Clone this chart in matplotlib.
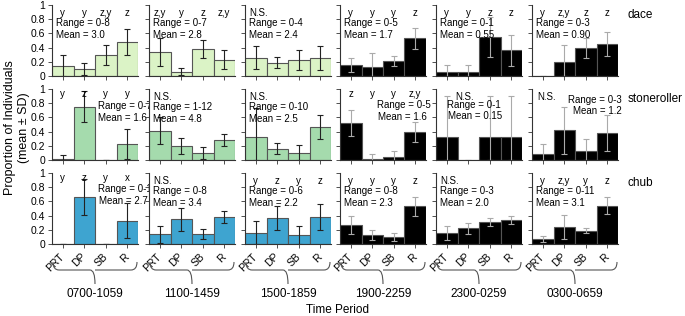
import matplotlib
matplotlib.use('Agg')
import matplotlib.pyplot as plt
from matplotlib.path import Path
from matplotlib.patches import PathPatch

plt.rcParams['font.family'] = ['Liberation Sans', 'DejaVu Sans']

# data
periods = ['0700-1059', '1100-1459', '1500-1859', '1900-2259', '2300-0259', '0300-0659']
habitats = ['PRT', 'DP', 'SB', 'R']
species = ['dace', 'stoneroller', 'chub']

dace_mean = [[0.14, 0.10, 0.29, 0.48], [0.34, 0.06, 0.38, 0.23], [0.26, 0.19, 0.23, 0.25],
             [0.15, 0.13, 0.21, 0.53], [0.06, 0.06, 0.55, 0.36], [0.00, 0.20, 0.39, 0.45]]
dace_sd = [[0.15, 0.08, 0.14, 0.18], [0.20, 0.05, 0.12, 0.13], [0.16, 0.08, 0.14, 0.17],
           [0.10, 0.19, 0.07, 0.15], [0.10, 0.10, 0.28, 0.22], [0.00, 0.24, 0.14, 0.17]]

stone_mean = [[0.02, 0.75, 0.00, 0.22], [0.41, 0.20, 0.10, 0.28], [0.32, 0.16, 0.10, 0.46],
              [0.52, 0.02, 0.04, 0.40], [0.33, 0.00, 0.33, 0.33], [0.09, 0.42, 0.13, 0.38]]
stone_sd = [[0.05, 0.22, 0.00, 0.21], [0.19, 0.11, 0.08, 0.08], [0.41, 0.08, 0.11, 0.17],
            [0.18, 0.07, 0.08, 0.14], [0.57, 0.00, 0.57, 0.57], [0.13, 0.33, 0.17, 0.25]]

chub_mean = [[0.00, 0.66, 0.00, 0.33], [0.14, 0.35, 0.14, 0.38], [0.15, 0.37, 0.12, 0.38],
             [0.27, 0.13, 0.10, 0.53], [0.16, 0.22, 0.31, 0.34], [0.07, 0.24, 0.19, 0.54]]
chub_sd = [[0.00, 0.25, 0.00, 0.25], [0.12, 0.16, 0.07, 0.09], [0.17, 0.17, 0.13, 0.18],
           [0.13, 0.07, 0.06, 0.13], [0.10, 0.08, 0.05, 0.06], [0.04, 0.17, 0.04, 0.12]]

dace_letters = [['y', 'y', 'z,y', 'z'], ['z,y', 'y', 'z', 'z,y'], 'N.S.',
                ['y', 'y', 'y', 'z'], ['y', 'y', 'z', 'z'], ['y', 'z,y', 'z', 'z']]
stone_letters = [['y', 'z', 'y', 'y'], 'N.S.', 'N.S.',
                 ['z', 'y', 'y', 'z,y'], 'N.S.', 'N.S.']
chub_letters = [['y', 'z', 'y', 'x'], 'N.S.', ['y', 'z', 'y', 'z'],
                ['y', 'y', 'y', 'z'], 'N.S.', ['y', 'z,y', 'y', 'z']]

dace_range = ['0-8', '0-7', '0-4', '0-5', '0-1', '0-3']
dace_avg = ['3.0', '2.8', '2.4', '1.7', '0.55', '0.90']
stone_range = ['0-7', '1-12', '0-10', '0-5', '0-1', '0-3']
stone_avg = ['1.6', '4.8', '2.5', '1.6', '0.15', '1.2']
chub_range = ['0-13', '0-8', '0-6', '0-8', '0-3', '0-11']
chub_avg = ['2.7', '3.4', '2.2', '2.3', '2.0', '3.1']

means = [dace_mean, stone_mean, chub_mean]
sds = [dace_sd, stone_sd, chub_sd]
letters = [dace_letters, stone_letters, chub_letters]
ranges = [dace_range, stone_range, chub_range]
avgs = [dace_avg, stone_avg, chub_avg]

colors = ['#dbf3c6', '#a5dbad', '#3ea4d0']

# text placement (axes fraction): (letters_y, ns_x, range_x, range_y, mean_x, mean_y)
text_pos = {(1, 0): (0.93, 0.05, 0.53, 0.76, 0.53, 0.59),
            (1, 3): (0.93, 0.05, 0.43, 0.77, 0.44, 0.61),
            (1, 4): (0.89, 0.22, 0.13, 0.77, 0.14, 0.62),
            (1, 5): (0.89, 0.06, 0.42, 0.84, 0.48, 0.69),
            (2, 0): (0.93, 0.05, 0.53, 0.77, 0.55, 0.61)}

W, H = 685, 316
fig = plt.figure(figsize=(W / 100, H / 100), dpi=100)

col_left = [52, 149, 245, 340, 436, 532]
row_top = [5, 89, 173]
pw, ph = 86, 71


def brace(ax):
    bb = ax.get_position()
    x0, x1 = bb.x0 * W + 1, bb.x1 * W - 1
    xm = (x0 + x1) / 2
    yt, yh, ytip = 262, 270, 284
    pts = [(x0, yt), (x0, yh), (x0 + 6, yh), (xm - 5, yh), (xm, yh), (xm, ytip),
           (xm, yh), (xm + 5, yh), (x1 - 6, yh), (x1, yh), (x1, yt)]
    pts = [(x / W, 1 - y / H) for x, y in pts]
    codes = [Path.MOVETO, Path.CURVE3, Path.CURVE3, Path.LINETO, Path.CURVE3, Path.CURVE3,
             Path.MOVETO, Path.CURVE3, Path.LINETO, Path.CURVE3, Path.CURVE3]
    fig.add_artist(PathPatch(Path(pts, codes), fc='none', ec='#555555', lw=0.8,
                             transform=fig.transFigure))


for r in range(3):
    for c in range(6):
        ax = fig.add_axes([col_left[c] / W, 1 - (row_top[r] + ph) / H, pw / W, ph / H])
        m = means[r][c]
        s = sds[r][c]
        dark = c >= 3
        fill = 'black' if dark else colors[r]
        ecol = '#aaaaaa' if dark else '#222222'
        x = list(range(4))
        ax.bar(x, m, width=1, color=fill, edgecolor='#555555', linewidth=0.8)
        lower = [min(a, b) for a, b in zip(s, m)]
        ax.errorbar(x, m, yerr=[lower, s], fmt='none', ecolor=ecol,
                    elinewidth=0.8, capsize=2, capthick=0.8)
        ax.set_xlim(-0.5, 3.5)
        ax.set_ylim(0, 1)
        for sp in ['top', 'right']:
            ax.spines[sp].set_visible(False)
        for sp in ['left', 'bottom']:
            ax.spines[sp].set_linewidth(0.8)
            ax.spines[sp].set_color('#333333')
        ax.set_yticks([0, 0.2, 0.4, 0.6, 0.8, 1.0])
        ax.set_xticks(x)
        ax.tick_params(direction='out', length=3, width=0.6, labelsize=7.5, pad=2,
                       colors='#333333', labelcolor='black')
        if c == 0:
            ax.set_yticklabels(['0', '0.2', '0.4', '0.6', '0.8', '1'])
        else:
            ax.set_yticklabels([])
        if r == 2:
            ax.set_xticklabels(habitats, rotation=45, ha='right', va='center',
                               rotation_mode='anchor', fontsize=7.5)
            ax.tick_params(axis='x', pad=5)
            brace(ax)
            bb = ax.get_position()
            fig.text((bb.x0 + bb.x1) / 2, 1 - 294 / H, periods[c], ha='center',
                     va='center', fontsize=8.5)
        else:
            ax.set_xticklabels([])

        ly, ns_x, rx, ry, mx, my = text_pos.get((r, c), (0.89, 0.05, 0.05, 0.74, 0.05, 0.58))
        lab = letters[r][c]
        if lab == 'N.S.':
            ax.text(ns_x, ly, 'N.S.', transform=ax.transAxes, ha='left',
                    va='center', fontsize=7)
        else:
            for i, t in enumerate(lab):
                ax.text(i, ly, t, ha='center', va='center', fontsize=7)
        ax.text(rx, ry, 'Range = ' + ranges[r][c], transform=ax.transAxes,
                ha='left', va='center', fontsize=7)
        ax.text(mx, my, 'Mean = ' + avgs[r][c], transform=ax.transAxes,
                ha='left', va='center', fontsize=7)

for r, name in enumerate(species):
    fig.text(628 / W, 1 - (row_top[r] + 10) / H, name, ha='left', va='center', fontsize=8.5)

fig.text(10 / W, 1 - 128 / H, 'Proportion of Individuals', rotation=90,
         ha='center', va='center', fontsize=9)
fig.text(24 / W, 1 - 128 / H, '(mean ± SD)', rotation=90,
         ha='center', va='center', fontsize=9)
fig.text(338 / W, 1 - 310 / H, 'Time Period', ha='center', va='center', fontsize=8.5)

fig.savefig('out.png', dpi=100)
